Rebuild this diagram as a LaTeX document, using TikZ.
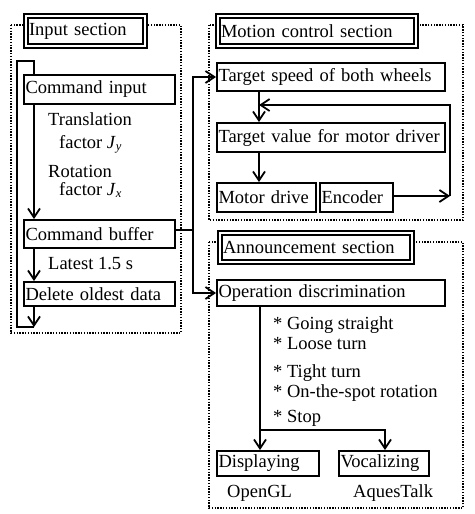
\documentclass[tikz,border=0pt]{standalone}
\usepackage{fontspec}
\setmainfont{Liberation Serif}
\usetikzlibrary{arrows.meta}
\newcommand{\fsz}{\fontsize{18.5}{21}\selectfont}
\newcommand{\subsc}[1]{\raisebox{-0.35ex}{\fontsize{12.5}{13}\selectfont\textit{#1}}}
\begin{document}
\begin{tikzpicture}[x=1pt,y=-1pt,
  box/.style={draw, line width=1.8pt, fill=white, inner xsep=1.5pt, inner ysep=0pt, align=left, font=\fsz},
  titlebox/.style={draw, line width=1.9pt, double, double distance=2pt, fill=white, inner xsep=3pt, inner ysep=0pt, align=left, font=\fsz},
  area/.style={draw, line width=1.5pt, dash pattern=on 1.4pt off 1.4pt},
  txt/.style={inner sep=0pt, anchor=base west, font=\fsz},
  ln/.style={line width=1.8pt},
  arr/.style={line width=1.8pt, -{Straight Barb[length=9pt,width=12pt]}}]
\useasboundingbox (0,0) rectangle (474,514);
% dotted section areas
\draw[area] (11,25) rectangle (181,333);
\draw[area] (209,25) rectangle (463,220);
\draw[area] (209,242) rectangle (463,508);
% titles
\node[titlebox, text width=113pt, minimum height=30pt] (tin) at (85.5,31) {\mbox{Input section}};
\node[titlebox, text width=192pt, minimum height=30pt] (tmc) at (317,31) {\mbox{Motion control section}};
\node[titlebox, text width=186pt, minimum height=29pt] (tan) at (316,247.5) {\mbox{Announcement section}};
% input section
\node[box, text width=148pt, minimum height=29pt] (cmdin) at (99.5,89.5) {\mbox{Command input}};
\node[box, text width=148pt, minimum height=28pt] (cmdbuf) at (99.5,234) {\mbox{Command buffer}};
\node[box, text width=148pt, minimum height=24pt] (del) at (99.5,294) {\mbox{Delete oldest data}};
\node[txt] (t1) at (48,125) {Translation};
\node[txt] (t2) at (59,148) {factor \textit{J}\subsc{y}};
\node[txt] (t3) at (48,177) {Rotation};
\node[txt] (t4) at (59,195) {factor \textit{J}\subsc{x}};
\node[txt] (t5) at (48,269) {Latest 1.5 s};
% motion control section
\node[box, text width=225pt, minimum height=28pt] (tspeed) at (331,77) {\mbox{Target speed of both wheels}};
\node[box, text width=225pt, minimum height=29pt] (tval) at (331,137.5) {\mbox{Target value for motor driver}};
\node[box, text width=96pt, minimum height=29pt] (mdrive) at (266.5,197.5) {\mbox{Motor drive}};
\node[box, text width=70pt, minimum height=29pt] (enc) at (356.5,197.5) {\mbox{Encoder}};
% announcement section
\node[box, text width=225pt, minimum height=26pt] (opdisc) at (331,293) {\mbox{Operation discrimination}};
\node[txt] (s1) at (273,329) {* Going straight};
\node[txt] (s2) at (273,349) {* Loose turn};
\node[txt] (s3) at (273,377) {* Tight turn};
\node[txt] (s4) at (273,397) {* On-the-spot rotation};
\node[txt] (s5) at (273,422) {* Stop};
\node[box, text width=99pt, minimum height=25pt] (disp) at (268,463.5) {\mbox{Displaying}};
\node[box, text width=87pt, minimum height=25pt] (voc) at (384,463.5) {\mbox{Vocalizing}};
\node[txt] (gl) at (227,497) {OpenGL};
\node[txt] (aq) at (353,497) {AquesTalk};
% helper coordinates
\coordinate (lx) at (34,0);
\coordinate (lb) at (34,327);
\coordinate (lbl) at (17,327);
\coordinate (ltl) at (17,61);
\coordinate (ltr) at (34,61);
\coordinate (bj) at (193,230);
\coordinate (mx) at (259,0);
\coordinate (fr) at (450,196);
\coordinate (fb) at (450,105);
\coordinate (ax) at (260,0);
\coordinate (aj) at (260,430);
\coordinate (vx) at (385,0);
% input section connectors
\draw[arr] (cmdin.south -| lx) -- (cmdbuf.north -| lx);
\draw[arr] (cmdbuf.south -| lx) -- (del.north -| lx);
\draw[arr] (del.south -| lx) -- (lb);
\draw[ln] (lb) -- (lbl) -- (ltl) -- (ltr) -- (cmdin.north -| lx);
% buffer to sections
\draw[ln] (cmdbuf.east |- bj) -- (bj);
\draw[arr] (bj) -- (bj |- tspeed.west) -- (tspeed.west);
\draw[arr] (bj) -- (bj |- opdisc.west) -- (opdisc.west);
% motion control connectors
\draw[arr] (tspeed.south -| mx) -- (tval.north -| mx);
\draw[arr] (tval.south -| mx) -- (mdrive.north -| mx);
\draw[arr] (enc.east |- fr) -- (fr);
\draw[arr] (fr) -- (fb) -- (fb -| mx);
% announcement connectors
\draw[ln] (opdisc.south -| ax) -- (aj);
\draw[arr] (aj) -- (disp.north -| ax);
\draw[arr] (aj) -- (aj -| vx) -- (voc.north -| vx);
\end{tikzpicture}
\end{document}
